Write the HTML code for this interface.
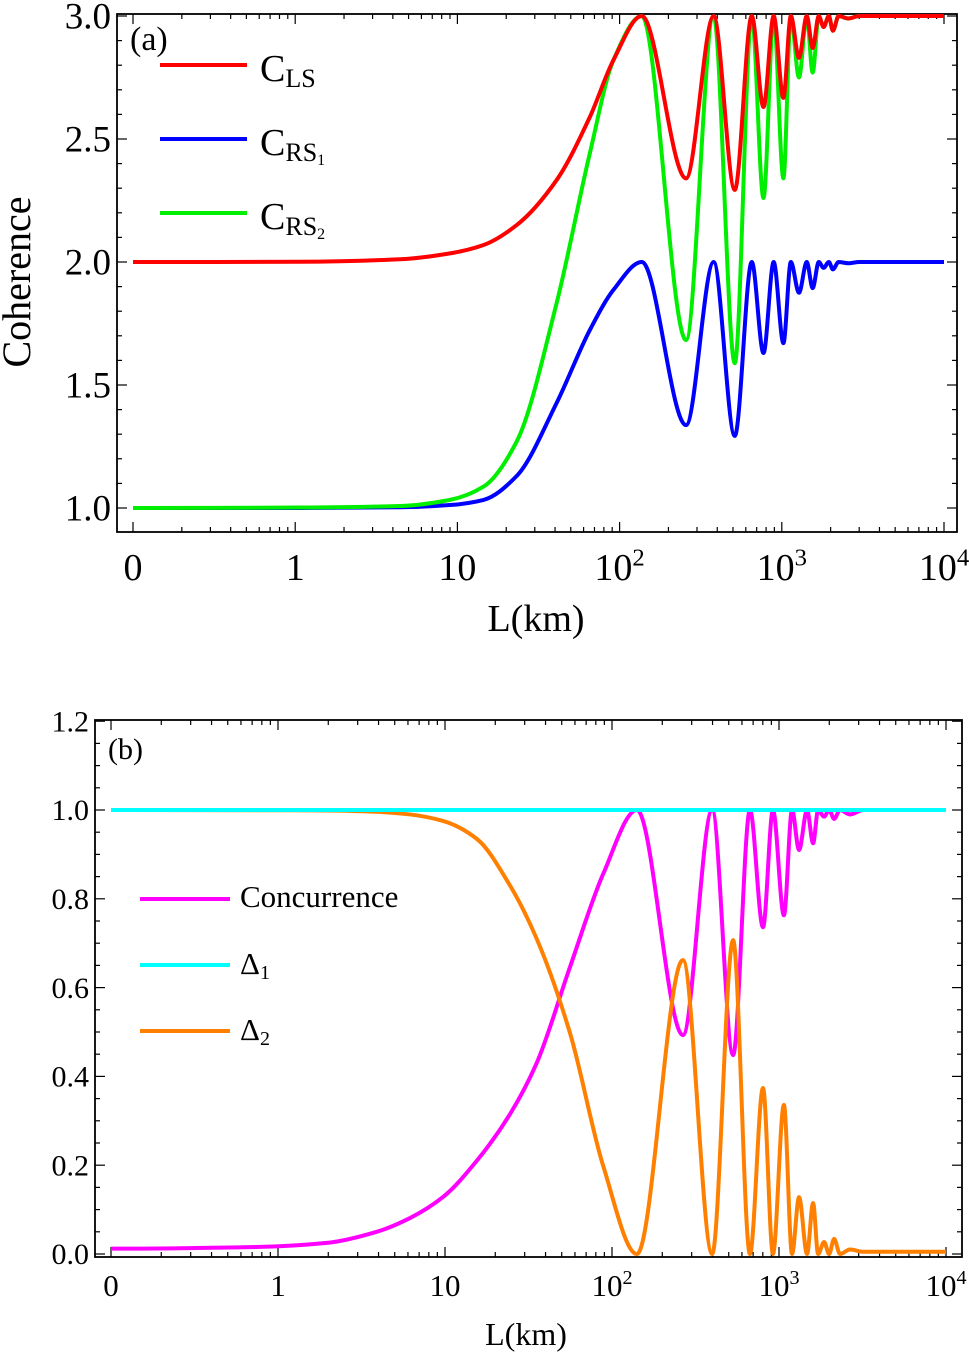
<!DOCTYPE html>
<html><head><meta charset="utf-8"><style>
html,body{margin:0;padding:0;background:#fff;}
svg{display:block;font-family:"Liberation Serif",serif;}
</style></head><body>
<svg id="chart" width="969" height="1353" viewBox="0 0 969 1353"></svg>
<script>
// ---- Panel (a) data ----
const topL = [0.1,1.07,4.43,9.0,14.5,23.2,40.9,65.6,91.5,137,257,380,513,653,771,891,1023,1137,1276,1425,1550,1690,1810,1950,2065,2240,2570,3000,10000];
const cLS  = [2,2.001,2.011,2.035,2.069,2.15,2.333,2.59,2.82,3,2.34,3,2.293,3,2.63,3,2.667,3,2.83,3,2.87,3,2.955,3,2.94,3,2.99,3,3];
const cRS1 = [1,1,1.003,1.012,1.033,1.13,1.427,1.724,1.886,2,1.337,2,1.293,2,1.63,2,1.67,2,1.875,2,1.894,2,1.976,2,1.97,2,1.995,2,2];
const cRS2 = [1,1.002,1.008,1.033,1.087,1.27,1.833,2.443,2.82,3,1.683,3,1.589,3,2.26,3,2.34,3,2.75,3,2.77,3,2.957,3,2.94,3,2.99,3,3];
const topYTicks = [1.0,1.5,2.0,2.5,3.0];
// ---- Panel (b) data ----
const botL = [0.1,0.78,1.96,3.9,6.17,9.78,15.5,24.5,35.4,56.1,88.8,141,266,398,531,670,802,920,1070,1197,1318,1472,1600,1714,1862,1995,2138,2318,2660,3200,10000];
const concurrence = [0.012,0.016,0.025,0.05,0.081,0.129,0.21,0.315,0.43,0.647,0.857,1,0.493,1,0.448,1,0.736,1,0.763,1,0.91,1,0.925,1,0.985,1,0.98,1,0.99,1,1];
const delta1 = [1,1,1,1,1,1,1,1,1,1,1,1,1,1,1,1,1,1,1,1,1,1,1,1,1,1,1,1,1,1,1];
const delta2 = [1,0.9995,0.999,0.996,0.99,0.975,0.935,0.83,0.71,0.497,0.197,0,0.662,0,0.707,0,0.374,0,0.336,0,0.128,0,0.115,0,0.027,0,0.034,0,0.01,0.005,0.005];
const botYTicks = [0.0,0.2,0.4,0.6,0.8,1.0,1.2];
const xTickLabels = ["0","1","10","10|2","10|3","10|4"];

const NS="http://www.w3.org/2000/svg";
const svg=document.getElementById('chart');
function mk(tag,attrs,parent){const e=document.createElementNS(NS,tag);for(const k in attrs)e.setAttribute(k,attrs[k]);(parent||svg).appendChild(e);return e;}

function smoothPath(xs,ys){
  const n=xs.length,d=[],h=[],m=[];
  for(let i=0;i<n-1;i++){h.push(xs[i+1]-xs[i]);d.push((ys[i+1]-ys[i])/h[i]);}
  m[0]=0;m[n-1]=0;
  for(let i=1;i<n-1;i++){
    if(d[i-1]*d[i]<=0){m[i]=0;continue;}
    const h0=h[i-1],h1=h[i];
    m[i]=3*(h0+h1)/((2*h1+h0)/d[i-1]+(h1+2*h0)/d[i]);}
  let p='M'+xs[0].toFixed(2)+','+ys[0].toFixed(2);
  for(let i=0;i<n-1;i++){const hh=h[i];
    p+=' C'+(xs[i]+hh/3).toFixed(2)+','+(ys[i]+m[i]*hh/3).toFixed(2)+' '+(xs[i+1]-hh/3).toFixed(2)+','+(ys[i+1]-m[i+1]*hh/3).toFixed(2)+' '+xs[i+1].toFixed(2)+','+ys[i+1].toFixed(2);}
  return p;
}

function panel(cfg){
  const g=mk('g',{});
  
  
  const X=L=>cfg.x0px+cfg.dec*(Math.log10(L)+1);
  const Y=v=>cfg.ybot-(v-cfg.ymin)*cfg.ppu;
  const fr=mk('rect',{x:cfg.fx0,y:cfg.fy0,width:cfg.fx1-cfg.fx0,height:cfg.fy1-cfg.fy0,fill:'none',stroke:'#000','stroke-width':1.8},g);
  
  
  for(let dcd=-1;dcd<4;dcd++){for(let k=1;k<10;k++){const L=k*Math.pow(10,dcd);const x=X(L);const len=k===1?10:5;
    mk('line',{x1:x,y1:cfg.fy1,x2:x,y2:cfg.fy1-len,stroke:'#000','stroke-width':1.2},g);
    mk('line',{x1:x,y1:cfg.fy0,x2:x,y2:cfg.fy0+len,stroke:'#000','stroke-width':1.2},g);}}
  const xe=X(10000);
  mk('line',{x1:xe,y1:cfg.fy1,x2:xe,y2:cfg.fy1-10,stroke:'#000','stroke-width':1.2},g);
  mk('line',{x1:xe,y1:cfg.fy0,x2:xe,y2:cfg.fy0+10,stroke:'#000','stroke-width':1.2},g);
  xTickLabels.forEach((lab,i)=>{const x=X(Math.pow(10,i-1));const t=mk('text',{x:x,y:cfg.xly,'font-size':cfg.xfs,'text-anchor':'middle'},g);
    
    
    const parts=lab.split('|');t.appendChild(document.createTextNode(parts[0]));
    if(parts[1]){const s=mk('tspan',{'font-size':cfg.xfs*0.65,dy:-cfg.xfs*0.38},t);s.textContent=parts[1];}});
  for(let v=cfg.ymin;v<=cfg.ymax+1e-9;v+=cfg.minor){const y=Y(v);const major=Math.abs(v/cfg.major-Math.round(v/cfg.major))<1e-6;const len=major?10:5;
    mk('line',{x1:cfg.fx0,y1:y,x2:cfg.fx0+len,y2:y,stroke:'#000','stroke-width':1.2},g);
    mk('line',{x1:cfg.fx1,y1:y,x2:cfg.fx1-len,y2:y,stroke:'#000','stroke-width':1.2},g);}
  cfg.yticks.forEach(v=>{const t=mk('text',{x:cfg.fx0-6,y:Y(v)+cfg.yfs*0.34,'font-size':cfg.yfs,'text-anchor':'end'},g);
    
    
    t.textContent=v.toFixed(1);});
  cfg.series.forEach(s=>{const xs=cfg.L.map(X),ys=s.v.map(Y);
    const p=mk('path',{d:smoothPath(xs,ys),fill:'none',stroke:s.c,'stroke-width':4,'stroke-linejoin':'round'},g);
    
    });
  return g;
}

panel({name:'panel-a',x0px:133,dec:162.2,ybot:508,ymin:1,ymax:3,ppu:246,fx0:117,fx1:957,fy0:14,fy1:532,
  xly:580,xfs:38,yfs:37,minor:0.1,major:0.5,yticks:topYTicks,L:topL,
  series:[{v:cRS1,c:'#0000ff',n:'series-crs1'},{v:cRS2,c:'#00ee00',n:'series-crs2'},{v:cLS,c:'#ff0000',n:'series-cls'}]});
panel({name:'panel-b',x0px:111,dec:167,ybot:1254,ymin:0,ymax:1.2,ppu:444,fx0:95,fx1:962,fy0:720,fy1:1257,
  xly:1296,xfs:31,yfs:30,minor:0.05,major:0.2,yticks:botYTicks,L:botL,
  series:[{v:concurrence,c:'#ff00ff',n:'series-concurrence'},{v:delta2,c:'#ff8000',n:'series-delta2'},{v:delta1,c:'#00ffff',n:'series-delta1'}]});
</script>
<svg width="969" height="1353" style="position:absolute;left:0;top:0;font-family:'Liberation Serif',serif">
  <text x="30" y="282" font-size="40" text-anchor="middle" transform="rotate(-90 30 282)">Coherence</text>
  <text x="536" y="631" font-size="38" text-anchor="middle">L(km)</text>
  <text x="526" y="1345" font-size="32" text-anchor="middle">L(km)</text>
  <text x="130" y="50" font-size="34">(a)</text>
  <text x="108" y="759" font-size="30">(b)</text>
  <g>
    <line x1="160" y1="65" x2="247" y2="65" stroke="#ff0000" stroke-width="4"/>
    <text x="260" y="81" font-size="38">C<tspan font-size="26" dy="6">LS</tspan></text>
    <line x1="160" y1="139" x2="247" y2="139" stroke="#0000ff" stroke-width="4"/>
    <text x="260" y="155" font-size="38">C<tspan font-size="26" dy="6">RS</tspan><tspan font-size="16" dy="4">1</tspan></text>
    <line x1="160" y1="213" x2="247" y2="213" stroke="#00ee00" stroke-width="4"/>
    <text x="260" y="229" font-size="38">C<tspan font-size="26" dy="6">RS</tspan><tspan font-size="16" dy="4">2</tspan></text>
  </g>
  <g>
    <line x1="140" y1="899" x2="230" y2="899" stroke="#ff00ff" stroke-width="4"/>
    <text x="240" y="907" font-size="31">Concurrence</text>
    <line x1="140" y1="965" x2="230" y2="965" stroke="#00ffff" stroke-width="4"/>
    <text x="240" y="974" font-size="31">Δ<tspan font-size="20" dy="5">1</tspan></text>
    <line x1="140" y1="1031" x2="230" y2="1031" stroke="#ff8000" stroke-width="4"/>
    <text x="240" y="1040" font-size="31">Δ<tspan font-size="20" dy="5">2</tspan></text>
  </g>
</svg>
</body></html>
